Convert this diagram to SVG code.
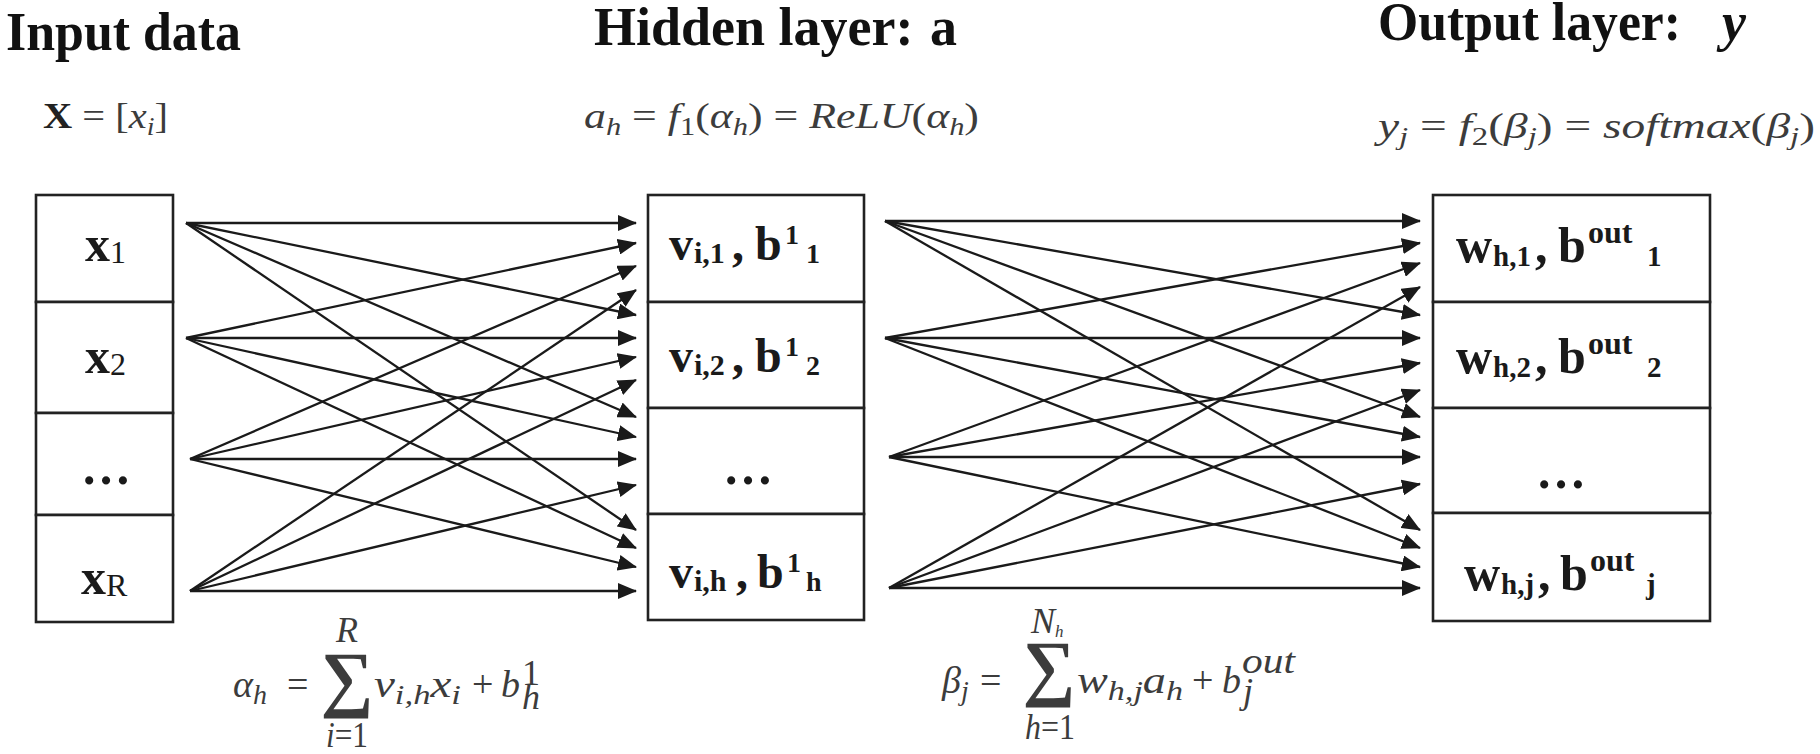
<svg xmlns="http://www.w3.org/2000/svg" width="1820" height="754" viewBox="0 0 1820 754">
<style>
.tt{font-family:"Liberation Serif",serif;font-weight:bold;font-size:54px;fill:#111}
.cell{fill:#fff;stroke:#222;stroke-width:2.6}
.lb{font-family:"Liberation Serif",serif;font-weight:bold;font-size:50px;fill:#1a1a1a}
.hl{font-size:48px}
.ss{font-size:30px}
.sp{font-size:28px}
.sn{font-size:32px;font-weight:normal}
.os{font-size:29px}
.oo{font-size:32px}
.m{font-family:"Liberation Serif",serif;font-style:italic;fill:#3c3c3c;font-size:36px}
.u{font-style:normal}
.b{font-size:38px}
.sg{font-family:"Liberation Serif",serif;font-style:normal;font-weight:bold;fill:#3c3c3c;font-size:74px}
.cn path{stroke:#1a1a1a;stroke-width:2.3;fill:none;marker-end:url(#ah)}
</style>
<defs>
<marker id="ah" markerUnits="userSpaceOnUse" markerWidth="19" markerHeight="16" refX="18" refY="8" orient="auto">
<path d="M0,0 L19,8 L0,16 z" fill="#1a1a1a"/>
</marker>
</defs>
<rect width="1820" height="754" fill="#fff"/>

<g id="titles">
<text class="tt" x="6" y="50" textLength="235" lengthAdjust="spacingAndGlyphs">Input data</text>
<text class="tt" x="594" y="45">Hidden layer:<tspan x="930">a</tspan></text>
<text class="tt" x="1378" y="40" textLength="303" lengthAdjust="spacingAndGlyphs">Output layer:</text>
<text class="tt" x="1722" y="40" font-style="italic">y</text>
</g>

<g id="formulas">
<text class="m" x="43" y="128" textLength="125" lengthAdjust="spacingAndGlyphs"><tspan class="u" font-weight="bold" fill="#222">X</tspan><tspan class="u"> = [</tspan>x<tspan font-size="25" dy="7">i</tspan><tspan class="u" dy="-7">]</tspan></text>
<text class="m" x="584" y="128" textLength="395" lengthAdjust="spacingAndGlyphs">a<tspan font-size="25" dy="7">h</tspan><tspan class="u" dy="-7"> = </tspan>f<tspan class="u" font-size="25" dy="7">1</tspan><tspan class="u" dy="-7">(</tspan>α<tspan font-size="25" dy="7">h</tspan><tspan class="u" dy="-7">) = </tspan>ReLU<tspan class="u">(</tspan>α<tspan font-size="25" dy="7">h</tspan><tspan class="u" dy="-7">)</tspan></text>
<text class="m" x="1378" y="138" textLength="437" lengthAdjust="spacingAndGlyphs">y<tspan font-size="25" dy="7">j</tspan><tspan class="u" dy="-7"> = </tspan>f<tspan class="u" font-size="25" dy="7">2</tspan><tspan class="u" dy="-7">(</tspan>β<tspan font-size="25" dy="7">j</tspan><tspan class="u" dy="-7">) = </tspan>softmax<tspan class="u">(</tspan>β<tspan font-size="25" dy="7">j</tspan><tspan class="u" dy="-7">)</tspan></text>

<g id="formula-alpha">
<text class="m b" x="233" y="697">α<tspan font-size="28" dy="7">h</tspan></text>
<text class="m b u" x="287" y="697">=</text>
<text class="sg" x="347" y="703" text-anchor="middle">∑</text>
<text class="m" font-size="23" x="347" y="642" text-anchor="middle">R</text>
<text class="m" font-size="23" x="326" y="747" textLength="42" lengthAdjust="spacingAndGlyphs">i<tspan class="u">=1</tspan></text>
<text class="m b" x="374" y="697" textLength="87" lengthAdjust="spacingAndGlyphs">v<tspan font-size="28" dy="7">i,h</tspan><tspan dy="-7">x</tspan><tspan font-size="28" dy="7">i</tspan></text>
<text class="m b u" x="472" y="697">+</text>
<text class="m b" x="501" y="697">b</text>
<text class="m u" font-size="24" x="522" y="685">1</text>
<text class="m" font-size="26" x="522" y="709">h</text>
</g>

<g id="formula-beta">
<text class="m b" x="942" y="693">β<tspan font-size="28" dy="7">j</tspan></text>
<text class="m b u" x="980" y="693">=</text>
<text class="sg" x="1049" y="692" text-anchor="middle">∑</text>
<text class="m" font-size="23" x="1031" y="633">N<tspan font-size="17" dy="4">h</tspan></text>
<text class="m" font-size="23" x="1025" y="739" textLength="50" lengthAdjust="spacingAndGlyphs">h<tspan class="u">=1</tspan></text>
<text class="m b" x="1077" y="693" textLength="106" lengthAdjust="spacingAndGlyphs">w<tspan font-size="28" dy="7">h,j</tspan><tspan dy="-7">a</tspan><tspan font-size="28" dy="7">h</tspan></text>
<text class="m b u" x="1192" y="693">+</text>
<text class="m b" x="1222" y="693">b</text>
<text class="m" font-size="28" x="1242" y="673" textLength="53" lengthAdjust="spacingAndGlyphs">out</text>
<text class="m" font-size="28" x="1243" y="703">j</text>
</g>
</g>

<g id="input-x1"><rect class="cell" x="36" y="195" width="137" height="107"/><text class="lb" x="85" y="261">x<tspan class="sn" dy="2">1</tspan></text></g>
<g id="input-x2"><rect class="cell" x="36" y="302" width="137" height="111"/><text class="lb" x="85" y="373">x<tspan class="sn" dy="2">2</tspan></text></g>
<g id="input-dots"><rect class="cell" x="36" y="413" width="137" height="102"/><text class="lb" x="106" y="484" text-anchor="middle">…</text></g>
<g id="input-xR"><rect class="cell" x="36" y="515" width="137" height="107"/><text class="lb" x="81" y="594">x<tspan class="sn" font-size="33" dy="2">R</tspan></text></g>

<g id="hidden-1"><rect class="cell" x="648" y="195" width="216" height="107"/>
<text class="lb hl"><tspan x="669" y="260">v</tspan><tspan class="ss" x="694" y="263">i,1</tspan><tspan x="732" y="260">,</tspan><tspan x="755" y="260">b</tspan><tspan class="sp" x="785" y="244">1</tspan><tspan class="sp" x="806" y="263">1</tspan></text></g>
<g id="hidden-2"><rect class="cell" x="648" y="302" width="216" height="106"/>
<text class="lb hl"><tspan x="669" y="372">v</tspan><tspan class="ss" x="694" y="375">i,2</tspan><tspan x="732" y="372">,</tspan><tspan x="755" y="372">b</tspan><tspan class="sp" x="785" y="356">1</tspan><tspan class="sp" x="806" y="375">2</tspan></text></g>
<g id="hidden-dots"><rect class="cell" x="648" y="408" width="216" height="106"/><text class="lb" x="748" y="484" text-anchor="middle">…</text></g>
<g id="hidden-h"><rect class="cell" x="648" y="514" width="216" height="106"/>
<text class="lb hl"><tspan x="669" y="588">v</tspan><tspan class="ss" x="694" y="591">i,h</tspan><tspan x="736" y="588">,</tspan><tspan x="757" y="588">b</tspan><tspan class="sp" x="787" y="572">1</tspan><tspan class="sp" x="806" y="591">h</tspan></text></g>

<g id="output-1"><rect class="cell" x="1433" y="195" width="277" height="107"/>
<text class="lb"><tspan x="1456" y="262">w</tspan><tspan class="os" x="1493" y="266">h,1</tspan><tspan x="1535" y="262">,</tspan><tspan x="1558" y="262">b</tspan><tspan class="oo" x="1588" y="243">out</tspan><tspan class="os" x="1647" y="266">1</tspan></text></g>
<g id="output-2"><rect class="cell" x="1433" y="302" width="277" height="106"/>
<text class="lb"><tspan x="1456" y="373">w</tspan><tspan class="os" x="1493" y="377">h,2</tspan><tspan x="1535" y="373">,</tspan><tspan x="1558" y="373">b</tspan><tspan class="oo" x="1588" y="354">out</tspan><tspan class="os" x="1647" y="377">2</tspan></text></g>
<g id="output-dots"><rect class="cell" x="1433" y="408" width="277" height="105"/><text class="lb" x="1561" y="488" text-anchor="middle">…</text></g>
<g id="output-j"><rect class="cell" x="1433" y="513" width="277" height="108"/>
<text class="lb"><tspan x="1464" y="590">w</tspan><tspan class="os" x="1501" y="594">h,j</tspan><tspan x="1538" y="590">,</tspan><tspan x="1560" y="590">b</tspan><tspan class="oo" x="1590" y="571">out</tspan><tspan class="os" x="1646" y="594">j</tspan></text></g>

<g id="connectors" class="cn">
<path d="M186 223 L636 223"/><path d="M186 223 L636 315"/><path d="M186 223 L636 417"/><path d="M186 223 L636 530"/>
<path d="M186 338 L636 243"/><path d="M186 338 L636 338"/><path d="M186 338 L636 437"/><path d="M186 338 L636 548"/>
<path d="M190 459 L636 266"/><path d="M190 459 L636 357"/><path d="M190 459 L636 459"/><path d="M190 459 L636 567"/>
<path d="M190 591 L636 290"/><path d="M190 591 L636 380"/><path d="M190 591 L636 485"/><path d="M190 591 L636 591"/>
<path d="M885 221 L1420 221"/><path d="M885 221 L1420 315"/><path d="M885 221 L1420 417"/><path d="M885 221 L1420 530"/>
<path d="M885 338 L1420 243"/><path d="M885 338 L1420 338"/><path d="M885 338 L1420 437"/><path d="M885 338 L1420 548"/>
<path d="M889 457 L1420 263"/><path d="M889 457 L1420 363"/><path d="M889 457 L1420 457"/><path d="M889 457 L1420 567"/>
<path d="M889 588 L1420 287"/><path d="M889 588 L1420 390"/><path d="M889 588 L1420 484"/><path d="M889 588 L1420 588"/>
</g>
</svg>
